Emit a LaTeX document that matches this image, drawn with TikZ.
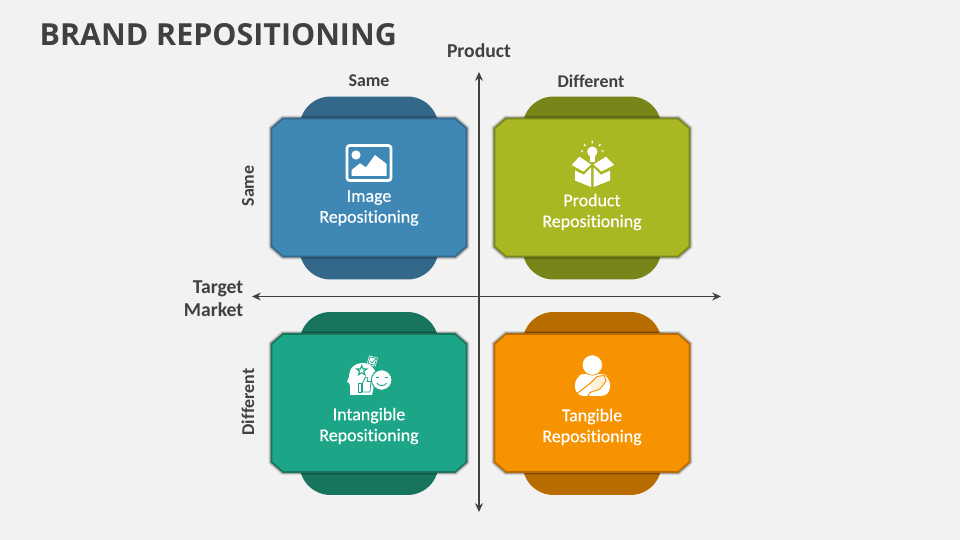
\documentclass[tikz,border=0pt]{standalone}
\usepackage{fontspec}
\setmainfont{Carlito}[Ligatures=NoCommon]
\newfontfamily\titlefont{Open Sans}
\newfontfamily\cardfont{Carlito}[Ligatures=NoCommon,FakeBold=0.35]
\usetikzlibrary{arrows.meta,positioning}

\definecolor{bgcol}{HTML}{F2F2F2}
\definecolor{inkcol}{HTML}{404040}
\definecolor{bluecol}{HTML}{3F88B5}
\definecolor{blueback}{HTML}{33688A}
\definecolor{greencol}{HTML}{A9B722}
\definecolor{greenback}{HTML}{7A8519}
\definecolor{tealcol}{HTML}{1CA587}
\definecolor{tealback}{HTML}{16755C}
\definecolor{orangecol}{HTML}{F79200}
\definecolor{orangeback}{HTML}{B86C00}

\newcommand{\cardpath}{(-86,-69) -- (86,-69) -- (97.5,-59) -- (97.5,59) -- (86,69) -- (-86,69) -- (-97.5,59) -- (-97.5,-59) -- cycle}

\tikzset{
  backcard/.style={rectangle,rounded corners=0.62cm,minimum width=2.78cm,minimum height=3.66cm,outer sep=0pt},
  frontcard/.style={line width=0.9pt,
    preaction={draw=black,opacity=0.12,line width=3.4pt},
    preaction={draw=black,opacity=0.22,line width=2.2pt}},
  cardtext/.style={text=white,align=center,font=\cardfont\fontsize{10.2}{11.9}\selectfont},
  axislabel/.style={text=inkcol,align=center,font=\fontsize{10.2}{13}\selectfont\bfseries},
  biglabel/.style={axislabel,font=\fontsize{11.2}{13.2}\selectfont\bfseries},
  axisline/.style={draw=inkcol,line width=0.8pt,{Stealth[length=5pt,width=4.5pt]}-{Stealth[length=5pt,width=4.5pt]}},
}

\begin{document}
\begin{tikzpicture}[x=0.02cm,y=-0.02cm]
  \useasboundingbox[fill=bgcol] (0,0) rectangle (960,540); %Page

  \node[anchor=west,text=inkcol,font=\titlefont\fontsize{17.3}{20}\selectfont\bfseries] (title) at (33.5,34.5) {BRAND REPOSITIONING}; %Title

  \node[backcard,fill=blueback] (backa) at (369,188) {}; %Back shape top left
  \node[backcard,fill=greenback] (backb) at (592,188) {}; %Back shape top right
  \node[backcard,fill=tealback] (backc) at (369,403.5) {}; %Back shape bottom left
  \node[backcard,fill=orangeback] (backd) at (592,403.5) {}; %Back shape bottom right

  \draw[frontcard,fill=bluecol,draw=blueback,shift={(369,187.5)}] \cardpath; %Card top left
  \draw[frontcard,fill=greencol,draw=greenback,shift={(592,187.5)}] \cardpath; %Card top right
  \draw[frontcard,fill=tealcol,draw=tealback,shift={(369,403)}] \cardpath; %Card bottom left
  \draw[frontcard,fill=orangecol,draw=orangeback,shift={(592,403)}] \cardpath; %Card bottom right

  \coordinate (top) at (479,72); %Ends of the axes
  \coordinate (bottom) at (479,512);
  \coordinate (left) at (252,296.5);
  \coordinate (right) at (721,296.5);
  \draw[axisline] (top) -- (bottom); %Draw y-axis
  \draw[axisline] (left) -- (right); %Draw x-axis

  \node[biglabel] (product) at (479,50.5) {Product}; %Annotation y-axis
  \node[biglabel,anchor=east,align=right] (market) at (249.5,298.5) {Target\\Market}; %Annotation x-axis
  \node[axislabel] (samex) at (369,81) {Same};
  \node[axislabel] (diffx) at (591,81) {Different};
  \node[axislabel,rotate=90] (samey) at (248,186) {Same};
  \node[axislabel,rotate=90] (diffy) at (248,402) {Different};

  \node[cardtext] (texta) at (369,208) {Image\\Repositioning};
  \node[cardtext] (textb) at (592,212) {Product\\Repositioning};
  \node[cardtext] (textc) at (369,426) {Intangible\\Repositioning};
  \node[cardtext] (textd) at (592,427) {Tangible\\Repositioning};

  %Image icon
  \draw[white,line width=1.5pt,rounded corners=1.5pt] (347,145.5) rectangle (391,180.5);
  \fill[white] (356,155) circle (4.6);
  \fill[white] (351.7,176) -- (351.7,170) -- (360,163.3) -- (366,167.3) -- (375,155) -- (386.7,164) -- (386.7,176) -- cycle;

  %Product icon
  \fill[white] (592.3,151.7) circle (5.2);
  \fill[white] (589.6,155) rectangle (595,162);
  \draw[white,line width=0.7pt] (592.3,141) -- (592.3,143.5) (584,144) -- (585.5,146) (600.5,144) -- (599,146)
    (581,151) -- (583,151) (603.5,151) -- (601.5,151);
  \fill[white] (571.7,165) -- (579.3,156.7) -- (591,164.5) -- (583.5,171.5) -- cycle;
  \fill[white] (593.5,164.5) -- (606,156.7) -- (614,165) -- (601.5,171.5) -- cycle;
  \fill[white] (575,170.5) -- (584,174.8) -- (591,167.5) -- (591,187) -- (575,180.5) -- cycle;
  \fill[white] (593.5,167.5) -- (601,174.8) -- (610,170.5) -- (610,180.5) -- (593.5,187) -- cycle;

  %Intangible icon
  \fill[white] (350,395) -- (350,386) .. controls (350,384) and (349,383) .. (347,381.5) -- (349,377)
    .. controls (349,368) and (355,363) .. (362,363) .. controls (370,363) and (376,368) .. (376,376)
    -- (372,395) -- cycle;
  \fill[white,draw=tealcol,line width=0.6pt] (381.7,380) circle (10.3);
  \draw[tealcol,line width=0.5pt] (377,383) .. controls (379,386.5) and (384.5,386.5) .. (386.5,383);
  \draw[tealcol,line width=0.4pt] (376,377) -- (379,377) (384.5,377) -- (387.5,377);
  \fill[white,rotate around={-15:(372.3,361)}] (367.8,356.5) rectangle (376.8,365.5);
  \draw[tealcol,line width=0.4pt,rotate around={-15:(372.3,361)}] (368.8,357.5) rectangle (375.8,364.5);
  \draw[tealcol,line width=0.4pt] (370,361) -- (372,363) -- (376,358.5);
  \draw[tealcol,line width=0.6pt] (361.7,365.5) -- (363,369) -- (366.7,369) -- (363.8,371.2) -- (364.9,374.8)
    -- (361.7,372.7) -- (358.5,374.8) -- (359.6,371.2) -- (356.7,369) -- (360.4,369) -- cycle;
  \draw[tealcol,line width=0.4pt] (358.5,383) rectangle (361.5,392);
  \draw[tealcol,line width=0.4pt] (362.5,383) -- (365.5,377) -- (368,378) -- (367,381.5) -- (371,381.5) -- (370,392) -- (362.5,392) -- cycle;

  %Tangible icon
  \fill[white,rounded corners=5pt] (575,396) -- (575,376) -- (585,373.5) -- (600,373.5) -- (610,376) -- (610,396) -- cycle;
  \fill[white,draw=orangecol,line width=0.4pt] (592.3,365) circle (10.2);
  \draw[orangecol,line width=0.6pt] (575,395) -- (590,383.5) -- (597,376.5) -- (604,375.5) -- (606,381) -- (600,389) -- (590,392.5) -- (588,396);
  \fill[white!85!orangecol] (597.5,377.5) -- (603.5,376.5) -- (605,381) -- (600,388) -- (592,391) -- (591,384) -- cycle;
\end{tikzpicture}
\end{document}
